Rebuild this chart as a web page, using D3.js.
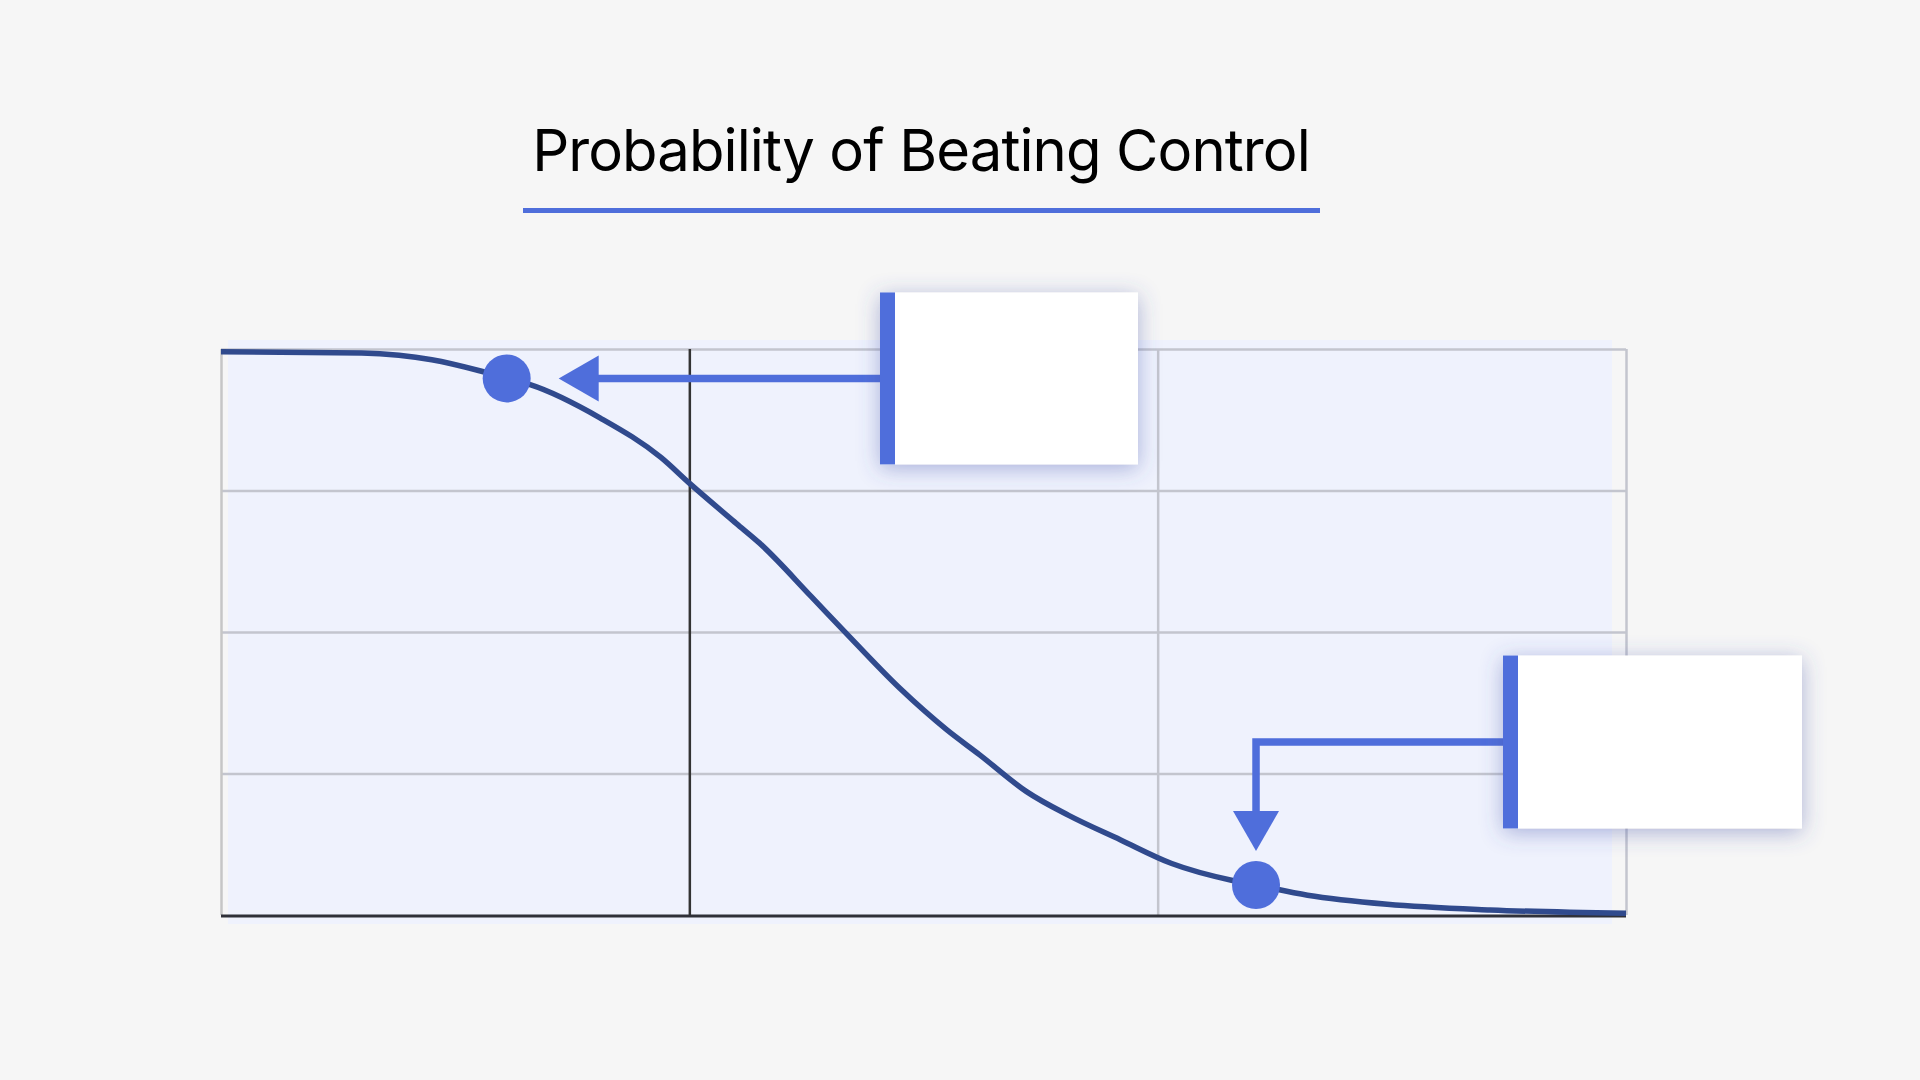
<!DOCTYPE html>
<html>
<head>
<meta charset="utf-8">
<script src="https://cdn.jsdelivr.net/npm/d3@7/dist/d3.min.js"></script>
<style>
  html, body { margin: 0; padding: 0; background: #f6f6f6; }
  svg { display: block; }
</style>
</head>
<body>
<div id="chart"></div>
<script>
// data: x = lift, y = probability of beating control
const title = 'Probability of Beating Control';
const liftValues = [-1, -0.7, -0.62, -0.55, -0.45, -0.39, -0.34, -0.19, -0.06, 0, 0.1, 0.15, 0.26, 0.33,
  0.45, 0.55, 0.62, 0.72, 0.81, 0.92, 1.03, 1.16, 1.21, 1.32, 1.49, 1.71, 2];
const probValues = [0.995, 0.993, 0.989, 0.981, 0.962, 0.948, 0.937, 0.878, 0.808, 0.763, 0.692, 0.657, 0.563, 0.502,
  0.400, 0.327, 0.283, 0.218, 0.176, 0.133, 0.091, 0.061, 0.053, 0.035, 0.019, 0.009, 0.003];
const xTicks = [-1, 0, 1, 2];
const yTicks = [0.25, 0.5, 0.75, 1];
const markerLift = [-0.39, 1.21];
const markerProb = [0.948, 0.053];

const W = 1920, H = 1080;
const accent = '#4f6edb';
const curveColor = '#304a8d';

const svg = d3.select('#chart').append('svg')
  .attr('width', W).attr('height', H);

const defs = svg.append('defs');
const shadow = defs.append('filter').attr('id', 'boxShadow')
  .attr('x', '-30%').attr('y', '-40%').attr('width', '160%').attr('height', '180%');
shadow.append('feDropShadow')
  .attr('dx', 0).attr('dy', 4).attr('stdDeviation', 11)
  .attr('flood-color', '#4452a8').attr('flood-opacity', 0.42);

// title + underline
svg.append('text')
  .attr('x', 921).attr('y', 171)
  .attr('text-anchor', 'middle')
  .style('font-family', 'Inter, "Noto Sans", sans-serif')
  .style('font-size', '58px')
  .style('letter-spacing', '-0.9px')
  .style('fill', '#000')
  .text(title);
svg.append('rect')
  .attr('x', 523).attr('y', 208).attr('width', 797).attr('height', 5)
  .attr('fill', accent);

const x = d3.scaleLinear().domain([-1, 2]).range([221, 1626]);
const y = d3.scaleLinear().domain([0, 1]).range([915, 349]);

// plot background (slightly offset from the grid, as in the original)
svg.append('rect')
  .attr('x', x(-1) + 7).attr('y', y(1) - 9)
  .attr('width', x(2) - x(-1) - 21).attr('height', y(0) - y(1) + 18)
  .attr('fill', '#eff2fd');

// grid via axes
const gridY = svg.append('g')
  .attr('transform', `translate(${x(-1)},0)`)
  .call(d3.axisLeft(y).tickValues(yTicks).tickSize(-(x(2) - x(-1))).tickFormat(''));
gridY.select('.domain').remove();
gridY.selectAll('line').attr('stroke', '#c3c5ce').attr('stroke-width', 2.5);

const gridX = svg.append('g')
  .attr('transform', `translate(0,${y(0)})`)
  .call(d3.axisBottom(x).tickValues(xTicks).tickSize(-(y(0) - y(1))).tickFormat(''));
gridX.select('.domain').remove();
gridX.selectAll('line')
  .attr('stroke', d => d === 0 ? '#333' : (d === -1 ? '#c6c6c6' : '#c3c5ce'))
  .attr('stroke-width', 2.5);

// bottom axis line
svg.append('line')
  .attr('x1', x(-1)).attr('x2', x(2))
  .attr('y1', y(0) + 1).attr('y2', y(0) + 1)
  .attr('stroke', '#2f3038').attr('stroke-width', 3);

// curve
const pts = liftValues.map((v, i) => [v, probValues[i]]);
svg.append('path')
  .datum(pts)
  .attr('fill', 'none')
  .attr('stroke', curveColor)
  .attr('stroke-width', 5.5)
  .attr('stroke-linejoin', 'round')
  .attr('d', d3.line().x(d => x(d[0])).y(d => y(d[1])).curve(d3.curveMonotoneX));

// markers
svg.append('g').selectAll('circle')
  .data(markerLift.map((v, i) => [v, markerProb[i]]))
  .join('circle')
  .attr('cx', d => x(d[0])).attr('cy', d => y(d[1]))
  .attr('r', 24)
  .attr('fill', accent);

// arrows
const m1x = x(markerLift[0]), m1y = y(markerProb[0]);
const m2x = x(markerLift[1]), m2y = y(markerProb[1]);
const box1 = { x: 880, w: 258, h: 172 };
const box2 = { x: 1503, w: 299, h: 173, y: 742 };

svg.append('line')
  .attr('x1', box1.x).attr('x2', m1x + 90)
  .attr('y1', m1y).attr('y2', m1y)
  .attr('stroke', accent).attr('stroke-width', 7.5);
svg.append('path')
  .attr('d', `M${m1x + 52},${m1y} L${m1x + 92},${m1y - 23} L${m1x + 92},${m1y + 23} Z`)
  .attr('fill', accent);

svg.append('path')
  .attr('d', `M${box2.x},${box2.y} L${m2x},${box2.y} L${m2x},${m2y - 72}`)
  .attr('fill', 'none')
  .attr('stroke', accent).attr('stroke-width', 7.5)
  .attr('stroke-linejoin', 'miter');
svg.append('path')
  .attr('d', `M${m2x},${m2y - 34} L${m2x - 23},${m2y - 74} L${m2x + 23},${m2y - 74} Z`)
  .attr('fill', accent);

// callout boxes (empty)
function callout(bx, cy, w, h) {
  const g = svg.append('g');
  g.append('rect')
    .attr('x', bx).attr('y', cy - h / 2).attr('width', w).attr('height', h)
    .attr('fill', '#fff')
    .attr('filter', 'url(#boxShadow)');
  g.append('rect')
    .attr('x', bx).attr('y', cy - h / 2).attr('width', 15).attr('height', h)
    .attr('fill', accent);
}
callout(box1.x, m1y, box1.w, box1.h);
callout(box2.x, box2.y, box2.w, box2.h);
</script>
</body>
</html>
